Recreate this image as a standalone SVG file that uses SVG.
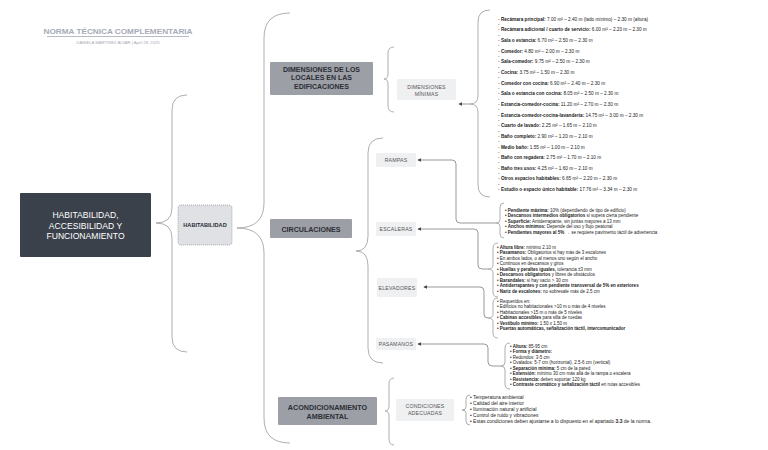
<svg xmlns="http://www.w3.org/2000/svg" width="768" height="450" viewBox="0 0 768 450">
<defs>
<style>
text{font-family:"Liberation Sans",Arial,sans-serif}
.brace{fill:none;stroke:#9a9a9a;stroke-width:0.8}
.conn{fill:none;stroke:#555;stroke-width:0.6}
.l2{fill:#9d9fa6}
.l2t{font-weight:bold;fill:#2b2e35;text-anchor:middle}
.l3{fill:#eff0f2}
.l3t{font-size:5.2px;fill:#555;text-anchor:middle;letter-spacing:0.2px}
.li{font-size:4.7px;fill:#222}
.li2{font-size:4.5px;fill:#222}
.b{font-weight:bold}
</style>
<marker id="ah" viewBox="0 0 6 6" refX="5" refY="3" markerWidth="4" markerHeight="4" orient="auto" markerUnits="userSpaceOnUse">
<path d="M0,0 L6,3 L0,6 Z" fill="#444"/>
</marker>
</defs>
<rect width="768" height="450" fill="#ffffff"/>

<g id="title">
<text x="118" y="33.5" text-anchor="middle" font-size="7.8" font-weight="bold" fill="#a6aab6" textLength="149" lengthAdjust="spacingAndGlyphs">NORMA TÉCNICA COMPLEMENTARIA</text>
<line x1="47" y1="36.5" x2="189" y2="36.5" stroke="#a6aab6" stroke-width="0.8"/>
<text x="118" y="43.5" text-anchor="middle" font-size="4.2" fill="#a6aab6">DANIELA MARTINEZ ALVAR  |  April 28, 2025</text>
</g>

<g id="connectors">
<path class="brace" d="M187,95 Q172,95 172,110 L172,208 Q172,223 156,223 Q172,223 172,238 L172,337 Q172,352 187,352"/>
<path class="brace" d="M290,13 Q264,13 264,38 L264,203 Q264,228 237,228 Q264,228 264,253 L264,418 Q264,443 290,443"/>
<path class="brace" d="M394,47 Q388,47 388,53 L388,74 Q388,79 384,79 Q388,79 388,84 L388,106 Q388,112 394,112"/>
<path class="brace" d="M383,138 Q368,138 368,153 L368,236 Q368,251 356,251 Q368,251 368,266 L368,348 Q368,363 383,363"/>
<path class="brace" d="M394,378 Q389,378 389,384 L389,406 Q389,411 385,411 Q389,411 389,416 L389,439 Q389,445 394,445"/>
<path class="brace" d="M490,10 Q478,10 478,22 L478,96 Q478,104 470,104 Q478,104 478,112 L478,185 Q478,197 490,197"/>
<path class="brace" d="M504,203 Q500,203 500,207 L500,220 Q500,223 496,223 Q500,223 500,226 L500,234 Q500,238 504,238"/>
<path class="brace" d="M498,243 Q493,243 493,248 L493,265 Q493,269 488,269 Q493,269 493,273 L493,292 Q493,297 498,297"/>
<path class="brace" d="M498,298 Q493,298 493,303 L493,314 Q493,318 488,318 Q493,318 493,322 L493,333 Q493,338 498,338"/>
<path class="brace" d="M510,343 Q505,343 505,348 L505,362 Q505,366 501,366 Q505,366 505,370 L505,384 Q505,389 510,389"/>
<path class="brace" d="M470,395 Q466,395 466,399 L466,407 Q466,410 462,410 Q466,410 466,413 L466,421 Q466,425 470,425"/>
<path class="conn" d="M470,104 L459,104" marker-end="url(#ah)"/>
<path class="conn" d="M496,223 L460,223 Q456,223 456,219 L456,164 Q456,160 452,160 L418,160" marker-end="url(#ah)"/>
<path class="conn" d="M488,269 L482,269 Q478,269 478,265 L478,233 Q478,229 474,229 L418,229" marker-end="url(#ah)"/>
<path class="conn" d="M488,318 Q484,318 484,314 L484,291 Q484,287 480,287 L424,287" marker-end="url(#ah)"/>
<path class="conn" d="M501,366 L492,366 Q488,366 488,362 L488,348 Q488,344 484,344 L418,344" marker-end="url(#ah)"/>
</g>

<g id="node-main">
<rect x="20" y="193" width="131" height="64" rx="1" fill="#3b414b"/>
<text x="85.5" y="218" text-anchor="middle" font-size="8.6" fill="#ffffff">HABITABILIDAD,</text>
<text x="85.5" y="228.5" text-anchor="middle" font-size="8.6" fill="#ffffff">ACCESIBILIDAD Y</text>
<text x="85.5" y="239" text-anchor="middle" font-size="8.6" fill="#ffffff">FUNCIONAMIENTO</text>
</g>

<g id="node-habitabilidad">
<rect x="178" y="205" width="54" height="40" rx="3" fill="#dfe1e5" stroke="#666" stroke-width="0.5" stroke-dasharray="1 1"/>
<text x="205" y="227" text-anchor="middle" font-size="5.6" font-weight="bold" fill="#2b2e35">HABITABILIDAD</text>
</g>

<g id="node-dimensiones">
<rect class="l2" x="270" y="62" width="103" height="33" rx="1"/>
<text class="l2t" x="321.5" y="71.5" font-size="7">DIMENSIONES DE LOS</text>
<text class="l2t" x="321.5" y="80" font-size="7">LOCALES  EN LAS</text>
<text class="l2t" x="321.5" y="88.5" font-size="7">EDIFICACIONES</text>
</g>

<g id="node-circulaciones">
<rect class="l2" x="270" y="219" width="82" height="19" rx="1"/>
<text class="l2t" x="311" y="231.5" font-size="7.1">CIRCULACIONES</text>
</g>

<g id="node-acondicionamiento">
<rect class="l2" x="278" y="397" width="99" height="28" rx="1"/>
<text class="l2t" x="327.5" y="409.5" font-size="7.2">ACONDICIONAMIENTO</text>
<text class="l2t" x="327.5" y="418.5" font-size="7.2">AMBIENTAL</text>
</g>

<g id="node-dimensiones-minimas">
<rect class="l3" x="397" y="79" width="59" height="21" rx="1"/>
<text class="l3t" x="426.5" y="88.5" font-size="4.8">DIMENSIONES</text>
<text class="l3t" x="426.5" y="95.5" font-size="4.8">MÍNIMAS</text>
</g>

<g id="node-rampas">
<rect class="l3" x="376" y="153" width="40" height="14" rx="1"/>
<text class="l3t" x="396" y="162">RAMPAS</text>
</g>

<g id="node-escaleras">
<rect class="l3" x="376" y="222" width="40" height="14" rx="1"/>
<text class="l3t" x="396" y="231">ESCALERAS</text>
</g>

<g id="node-elevadores">
<rect class="l3" x="377" y="278" width="40" height="19" rx="1"/>
<text class="l3t" x="397" y="289.5">ELEVADORES</text>
</g>

<g id="node-pasamanos">
<rect class="l3" x="376" y="338" width="40" height="12" rx="1"/>
<text class="l3t" x="396" y="346">PASAMANOS</text>
</g>

<g id="node-condiciones">
<rect class="l3" x="396" y="399" width="58" height="22" rx="1"/>
<text class="l3t" x="425" y="408" font-size="4.8">CONDICIONES</text>
<text class="l3t" x="425" y="414.5" font-size="4.8">ADECUADAS</text>
</g>

<g id="list-dimensiones" class="li">
<text x="498" y="20.6">- <tspan class="b">Recámara principal:</tspan> 7.00 m² – 2.40 m (lado mínimo) – 2.30 m (altura)</text>
<text x="498" y="25.9">-</text>
<text x="498" y="31.3">- <tspan class="b">Recámara adicional / cuarto de servicio:</tspan> 6.00 m² – 2.20 m – 2.30 m</text>
<text x="498" y="36.6">-</text>
<text x="498" y="41.9">- <tspan class="b">Sala o estancia:</tspan> 6.70 m² – 2.50 m – 2.30 m</text>
<text x="498" y="47.2">-</text>
<text x="498" y="52.6">- <tspan class="b">Comedor:</tspan> 4.80 m² – 2.00 m – 2.30 m</text>
<text x="498" y="57.9">-</text>
<text x="498" y="63.2">- <tspan class="b">Sala-comedor:</tspan> 9.75 m² – 2.50 m – 2.30 m</text>
<text x="498" y="68.5">-</text>
<text x="498" y="73.9">- <tspan class="b">Cocina:</tspan> 3.75 m² – 1.50 m – 2.30 m</text>
<text x="498" y="79.2">-</text>
<text x="498" y="84.5">- <tspan class="b">Comedor con cocina:</tspan> 6.90 m² – 2.40 m – 2.30 m</text>
<text x="498" y="89.9">-</text>
<text x="498" y="95.2">- <tspan class="b">Sala o estancia con cocina:</tspan> 8.05 m² – 2.50 m – 2.30 m</text>
<text x="498" y="100.5">-</text>
<text x="498" y="105.8">- <tspan class="b">Estancia-comedor-cocina:</tspan> 11.20 m² – 2.70 m – 2.30 m</text>
<text x="498" y="111.2">-</text>
<text x="498" y="116.5">- <tspan class="b">Estancia-comedor-cocina-lavandería:</tspan> 14.75 m² – 3.00 m – 2.30 m</text>
<text x="498" y="121.8">-</text>
<text x="498" y="127.2">- <tspan class="b">Cuarto de lavado:</tspan> 2.25 m² – 1.65 m – 2.10 m</text>
<text x="498" y="132.5">-</text>
<text x="498" y="137.8">- <tspan class="b">Baño completo:</tspan> 2.90 m² – 1.20 m – 2.10 m</text>
<text x="498" y="143.1">-</text>
<text x="498" y="148.5">- <tspan class="b">Medio baño:</tspan> 1.55 m² – 1.00 m – 2.10 m</text>
<text x="498" y="153.8">-</text>
<text x="498" y="159.1">- <tspan class="b">Baño con regadera:</tspan> 2.75 m² – 1.70 m – 2.10 m</text>
<text x="498" y="164.4">-</text>
<text x="498" y="169.8">- <tspan class="b">Baño tres usos:</tspan> 4.25 m² – 1.60 m – 2.10 m</text>
<text x="498" y="175.1">-</text>
<text x="498" y="180.4">- <tspan class="b">Otros espacios habitables:</tspan> 6.65 m² – 2.20 m – 2.30 m</text>
<text x="498" y="185.7">-</text>
<text x="498" y="191.1">- <tspan class="b">Estudio o espacio único habitable:</tspan> 17.76 m² – 3.34 m – 2.30 m</text>
</g>

<g id="list-rampas" class="li2">
<text x="505" y="211.5">• <tspan class="b">Pendiente máxima:</tspan> 10% (dependiendo de tipo de edificio)</text>
<text x="505" y="217">• <tspan class="b">Descansos intermedios obligatorios</tspan> si supera cierta pendiente</text>
<text x="505" y="222.5">• <tspan class="b">Superficie:</tspan> Antiderrapante, sin juntas mayores a 13 mm</text>
<text x="505" y="228">• <tspan class="b">Anchos mínimos:</tspan> Depende del uso y flujo peatonal</text>
<text x="505" y="233.5">• <tspan class="b">Pendientes mayores al 5%</tspan> → se requiere pavimento táctil de advertencia</text>
</g>

<g id="list-escaleras" class="li2">
<text x="497" y="248.5">• <tspan class="b">Altura libre:</tspan> mínimo 2.10 m</text>
<text x="497" y="254">• <tspan class="b">Pasamanos:</tspan> Obligatorios si hay más de 3 escalones</text>
<text x="497" y="259.5">• En ambos lados, o al menos uno según el ancho</text>
<text x="497" y="265">• Continuos en descansos y giros</text>
<text x="497" y="270.5">• <tspan class="b">Huellas y peraltes iguales,</tspan> tolerancia ±3 mm</text>
<text x="497" y="276">• <tspan class="b">Descansos obligatorios</tspan> y libres de obstáculos</text>
<text x="497" y="281.5">• <tspan class="b">Barandales:</tspan> si hay vacío &gt; 30 cm</text>
<text x="497" y="287">• <tspan class="b">Antiderrapantes y con pendiente transversal de 5% en exteriores</tspan></text>
<text x="497" y="292.5">• <tspan class="b">Nariz de escalones:</tspan> no sobresale más de 2.5 cm</text>
</g>

<g id="list-elevadores" class="li2">
<text x="497" y="302.5">• Requeridos en:</text>
<text x="497" y="308">• Edificios no habitacionales &gt;10 m o más de 4 niveles</text>
<text x="497" y="313.5">• Habitacionales &gt;15 m o más de 5 niveles</text>
<text x="497" y="319">• <tspan class="b">Cabinas accesibles</tspan> para silla de ruedas</text>
<text x="497" y="324.5">• <tspan class="b">Vestíbulo mínimo:</tspan> 1.50 x 1.50 m</text>
<text x="497" y="330">• <tspan class="b">Puertas automáticas, señalización táctil, intercomunicador</tspan></text>
</g>

<g id="list-pasamanos" class="li2">
<text x="510" y="347.5">• <tspan class="b">Altura:</tspan> 85-95 cm</text>
<text x="510" y="353">• <tspan class="b">Forma y diámetro:</tspan></text>
<text x="510" y="358.5">• Redondos: 3-5 cm</text>
<text x="510" y="364">•  Ovalados: 5-7 cm (horizontal), 2.5-6 cm (vertical)</text>
<text x="510" y="369.5">• <tspan class="b">Separación mínima:</tspan> 5 cm de la pared</text>
<text x="510" y="375">• <tspan class="b">Extensión:</tspan> mínimo 30 cm más allá de la rampa o escalera</text>
<text x="510" y="380.5">• <tspan class="b">Resistencia:</tspan> deben soportar 120 kg</text>
<text x="510" y="386">• <tspan class="b">Contraste cromático y señalización táctil</tspan> en rutas accesibles</text>
</g>

<g id="list-condiciones" font-size="4.95" fill="#222">
<text x="470" y="398.5">• Temperatura ambiental</text>
<text x="470" y="404.5">• Calidad del aire interior</text>
<text x="470" y="410.5">• Iluminación natural y artificial</text>
<text x="470" y="416.5">• Control de ruido y vibraciones</text>
<text x="470" y="422.5">• Estas condiciones deben ajustarse a lo dispuesto en el apartado <tspan class="b">3.3</tspan> de la norma.</text>
</g>
</svg>
